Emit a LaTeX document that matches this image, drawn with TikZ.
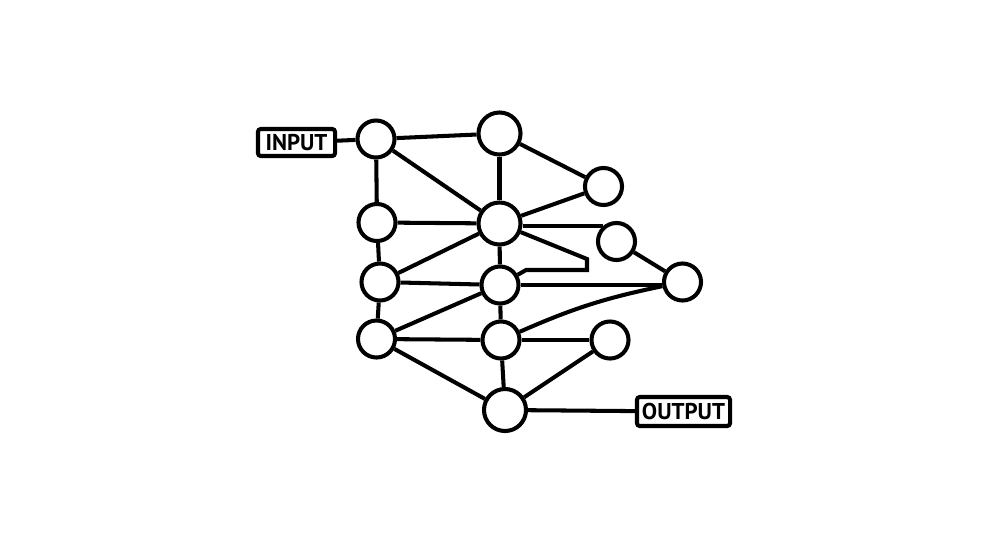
\documentclass[tikz,border=0pt]{standalone}
\usepackage{fontspec}
\setsansfont{PT Sans}
\usepackage{tikz}

\begin{document}
\begin{tikzpicture}[-,x=0.01cm,y=-0.01cm,line width=1.15pt,
                    unit/.style={circle,draw,fill=white,minimum size=0.37cm,inner sep=0pt},
                    bigunit/.style={unit,minimum size=0.42cm},
                    port/.style={draw,rounded corners=0.8pt,inner sep=0pt,
                                 font=\sffamily\bfseries\fontsize{6.5}{7}\selectfont}]
%  \tikzstyle{every node}=[fill=white]
  \useasboundingbox (0,0) rectangle (1000,545);

  \node[port,minimum width=0.77cm,minimum height=0.27cm] (IN)  at (296.5,142.5) {INPUT};
  \node[port,minimum width=0.93cm,minimum height=0.29cm] (OUT) at (683.5,411.5) {OUTPUT};

  \node[unit]    (A1) at (376,139) {};
  \node[unit]    (A2) at (377,222.5) {};
  \node[unit]    (A3) at (380,282) {};
  \node[unit]    (A4) at (376.5,339) {};
  \node[bigunit] (B1) at (499.5,133.5) {};
  \node[bigunit] (B2) at (499.5,223.5) {};
  \node[unit]    (B3) at (500,285) {};
  \node[unit]    (B4) at (501,340) {};
  \node[bigunit] (B5) at (505,410) {};
  \node[unit]    (R1) at (603.5,186.5) {};
  \node[unit]    (R2) at (616.5,241.5) {};
  \node[unit]    (R3) at (682.5,282) {};
  \node[unit]    (R4) at (610,340) {};

  \coordinate (k1) at (587,259);
  \coordinate (k2) at (587,270);
  \coordinate (k3) at (526,270);

  \path (IN) edge (A1)
        (A1) edge (B1)
             edge (B2)
             edge (A2)
        (B1) edge (B2)
             edge (R1)
        (B2) edge (R1)
             edge (B3)
        (A2) edge (B2)
             edge (A3)
        (A3) edge (B3)
             edge (B2)
             edge (A4)
        (A4) edge (B3)
             edge (B4)
             edge (B5)
        (B3) edge (B4)
        (B4) edge (R4)
             edge (B5)
             edge[bend left=6] (R3)
        (R2) edge (R3)
        (B5) edge (R4)
             edge (OUT);
  \draw (R2.130) -- (R2.130 -| B2.east);
  \draw (B3.east) -- (B3.east -| R3.west);
  \draw[line join=miter] (B2) -- (k1) -- (k2) -- (k3) -- (B3);
\end{tikzpicture}
\end{document}
